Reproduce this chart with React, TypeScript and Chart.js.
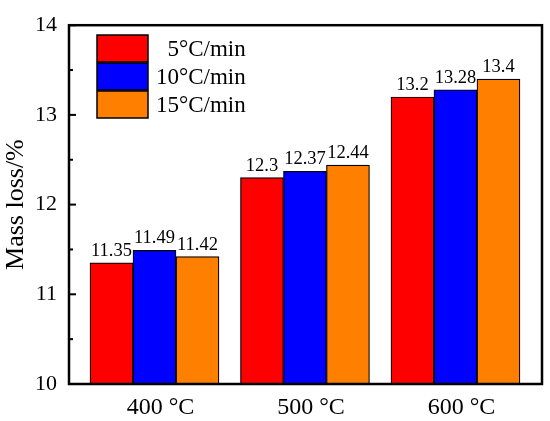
import { useEffect, useRef } from "react";
import { Chart, registerables } from "chart.js";

Chart.register(...registerables);

const categories = ["400 °C", "500 °C", "600 °C"];
const seriesNames = ["  5°C/min", "10°C/min", "15°C/min"];
const rate5 = [11.35, 12.3, 13.2];
const rate10 = [11.49, 12.37, 13.28];
const rate15 = [11.42, 12.44, 13.4];
const seriesValues = [rate5, rate10, rate15];
const seriesColors = ["#FF0000", "#0000FF", "#FF8000"];
const yTicks = [10, 11, 12, 13, 14];
const yTitle = "Mass loss/%";

const FONT = "'Liberation Serif', 'Times New Roman', serif";

const decorations = {
  id: "decorations",
  afterDatasetsDraw(chart: any) {
    const { ctx, chartArea: a, scales } = chart;
    const y = scales.y;
    ctx.save();
    // value labels
    ctx.font = `18.5px ${FONT}`;
    ctx.fillStyle = "#000";
    ctx.textAlign = "center";
    ctx.textBaseline = "alphabetic";
    chart.data.datasets.forEach((ds: any, di: number) => {
      const meta = chart.getDatasetMeta(di);
      meta.data.forEach((el: any, i: number) => {
        ctx.fillText(String(ds.data[i].y), el.x, el.y - 7);
      });
    });
    // inward y ticks
    ctx.strokeStyle = "#000";
    ctx.lineWidth = 2;
    for (let v = y.min; v <= y.max + 1e-9; v += 0.5) {
      const py = y.getPixelForValue(v);
      const len = Math.abs(v - Math.round(v)) < 1e-9 ? 7 : 4;
      ctx.beginPath();
      ctx.moveTo(a.left, py);
      ctx.lineTo(a.left + len, py);
      ctx.stroke();
    }
    // frame
    ctx.lineWidth = 2.5;
    ctx.strokeRect(a.left, a.top, a.right - a.left, a.bottom - a.top);
    // legend
    const x0 = 97;
    const y0 = 35;
    const boxW = 51;
    const boxH = 27;
    const rowH = 28;
    ctx.font = `23px ${FONT}`;
    ctx.textAlign = "left";
    ctx.textBaseline = "middle";
    chart.data.datasets.forEach((ds: any, i: number) => {
      const by = y0 + i * rowH;
      ctx.fillStyle = ds.backgroundColor;
      ctx.fillRect(x0, by, boxW, boxH);
      ctx.lineWidth = 1.5;
      ctx.strokeStyle = "#000";
      ctx.strokeRect(x0, by, boxW, boxH);
      ctx.fillStyle = "#000";
      ctx.fillText(ds.label, x0 + boxW + 8, by + boxH / 2 + 1);
    });
    ctx.restore();
  },
};

export default function App() {
  const ref = useRef<HTMLCanvasElement>(null);
  useEffect(() => {
    const chart = new Chart(ref.current as HTMLCanvasElement, {
      type: "bar",
      data: {
        datasets: seriesValues.map((vals, si) => ({
          label: seriesNames[si],
          data: vals.map((v, i) => ({ x: i + 1, y: v })),
          backgroundColor: seriesColors[si],
          borderColor: "#000",
          borderWidth: 1.2,
          barThickness: 43,
        })),
      } as any,
      options: {
        responsive: false,
        animation: false,
        events: [],
        layout: { padding: { top: 16, right: 8, left: 0, bottom: 0 } },
        plugins: {
          legend: { display: false },
          tooltip: { enabled: false },
        },
        scales: {
          x: {
            type: "linear",
            offset: false,
            min: 0.432,
            max: 3.575,
            grid: { display: false, drawTicks: false, offset: false },
            border: { display: false },
            afterBuildTicks: (s: any) => {
              s.ticks = categories.map((_, i) => ({ value: i + 1 }));
            },
            afterFit: (s: any) => {
              s.height = 37;
            },
            ticks: {
              callback: (v: any) => categories[Math.round(Number(v)) - 1] ?? "",
              font: { family: FONT, size: 24 },
              color: "#000",
              padding: 9,
              labelOffset: 6,
              maxRotation: 0,
              autoSkip: false,
            },
          },
          y: {
            min: 10,
            max: 14,
            grid: { display: false, drawTicks: false },
            border: { display: false },
            afterBuildTicks: (s: any) => {
              s.ticks = yTicks.map((v) => ({ value: v }));
            },
            afterFit: (s: any) => {
              s.width = 69;
            },
            ticks: {
              font: { family: FONT, size: 22 },
              color: "#000",
              padding: 12,
            },
            title: {
              display: true,
              text: yTitle,
              font: { family: FONT, size: 26 },
              color: "#000",
              padding: { top: 1, bottom: 0 },
            },
          },
        },
      } as any,
      plugins: [decorations],
    });
    return () => chart.destroy();
  }, []);
  return (
    <div style={{ position: "fixed", left: 0, top: 0, width: 550, height: 421, background: "#fff" }}>
      <canvas ref={ref} width={550} height={421} style={{ display: "block", width: 550, height: 421 }} />
    </div>
  );
}
